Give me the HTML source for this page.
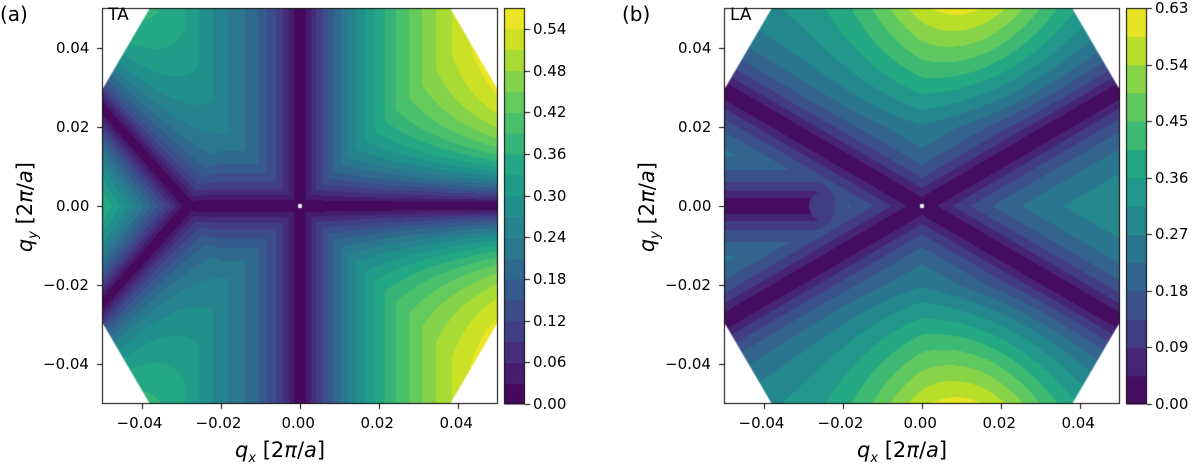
<!DOCTYPE html>
<html><head><meta charset="utf-8"><style>
body{margin:0;background:#fff;width:1200px;height:472px;overflow:hidden;position:relative;font-family:"DejaVu Sans","Liberation Sans",sans-serif;}
canvas{position:absolute;left:0;top:0}
.t{position:absolute;font-size:15px;color:#000;white-space:nowrap}
</style></head><body>
<canvas id="cv" width="1200" height="472"></canvas>
<div id="labels"></div>
<script>
const xTicks=[-0.04,-0.02,0.00,0.02,0.04];
const yTicks=[-0.04,-0.02,0.00,0.02,0.04];
const taCbTicks=[0.00,0.06,0.12,0.18,0.24,0.30,0.36,0.42,0.48,0.54];
const laCbTicks=[0.00,0.09,0.18,0.27,0.36,0.45,0.54,0.63];
const taMax=0.57, taStep=0.03;
const laMax=0.63, laStep=0.045;
const hexX=[-0.0379,0.0379,0.05,0.05,0.0379,-0.0379,-0.05,-0.05];
const hexY=[0.05,0.05,0.0293,-0.0293,-0.05,-0.05,-0.0293,0.0293];

const VIR=[[68,1,84],[72,35,116],[64,67,135],[52,94,141],[41,120,142],[32,144,140],[34,167,132],[68,190,112],[121,209,81],[189,223,38],[253,231,37]];
function vir(t){t=Math.max(0,Math.min(1,t));const f=t*10,i=Math.min(9,Math.floor(f)),u=f-i;return VIR[i].map((c,k)=>Math.round(c+(VIR[i+1][k]-c)*u));}
function segDist(px,py,ax,ay,bx,by){const dx=bx-ax,dy=by-ay;let t=((px-ax)*dx+(py-ay)*dy)/(dx*dx+dy*dy);t=Math.max(0,Math.min(1,t));return Math.hypot(px-ax-t*dx,py-ay-t*dy);}
function g(d){return 1-Math.exp(-Math.max(0,d-0.0003)/0.012);}
function ta(x,y){
  let d=Math.min(Math.abs(x),segDist(x,y,-0.028,0,0.06,0),segDist(x,y,-0.028,0,-0.06,0.036),segDist(x,y,-0.028,0,-0.06,-0.036));
  let A=x>0?0.31+5.8*x:0.31+Math.max(0,(-x-0.02))*6;
  return A*g(d);
}
function la(x,y){
  let d=Math.min(segDist(x,y,0,0,0.06,0.035),segDist(x,y,0,0,0.06,-0.035),segDist(x,y,0,0,-0.06,0.035),segDist(x,y,0,0,-0.06,-0.035),segDist(x,y,-0.028,0,-0.06,0));
  let A=0.35+0.28*Math.max(0,(Math.abs(y)-0.02)/0.03)*Math.exp(-(((x-0.01)/0.025)**2));
  let v=A*g(d);
  const b=Math.hypot(x+0.025,y);if(b<0.0035)v=Math.max(v,0.12);
  return v;
}
const cv=document.getElementById('cv'),ctx=cv.getContext('2d');
const L=document.getElementById('labels');
function label(txt,x,y,name,extra){const d=document.createElement('div');d.className='t';d.innerHTML=txt;d.style.left=x+'px';d.style.top=y+'px';if(extra)d.style.cssText+=extra;


L.appendChild(d);return d;}
function panel(ox,fn,vmax,step,cbTicks,letter,title){
  const x0=ox+102,x1=ox+498,y0=8,y1=404;
  const sx=v=>x0+(v+0.05)/0.1*(x1-x0), sy=v=>y1-(v+0.05)/0.1*(y1-y0);
  const img=ctx.createImageData(x1-x0,y1-y0);
  const nb=Math.round(vmax/step);
  for(let j=0;j<y1-y0;j++)for(let i=0;i<x1-x0;i++){
    const x=-0.05+(i+0.5)/(x1-x0)*0.1,y=0.05-(j+0.5)/(y1-y0)*0.1;
    let b=Math.min(nb-1,Math.floor(fn(x,y)/step));
    const c=vir((b+0.5)/nb);const k=(j*(x1-x0)+i)*4;img.data[k]=c[0];img.data[k+1]=c[1];img.data[k+2]=c[2];img.data[k+3]=255;}
  const off=document.createElement('canvas');off.width=x1-x0;off.height=y1-y0;off.getContext('2d').putImageData(img,0,0);
  ctx.save();ctx.beginPath();hexX.forEach((v,i)=>{i?ctx.lineTo(sx(v),sy(hexY[i])):ctx.moveTo(sx(v),sy(hexY[i]))});ctx.closePath();ctx.clip();
  ctx.drawImage(off,x0,y0);ctx.restore();
  ctx.fillStyle='#fff';ctx.beginPath();ctx.arc(sx(0),sy(0),2.2,0,7);ctx.fill();
  ctx.strokeStyle='#000';ctx.lineWidth=1;ctx.strokeRect(x0+0.5,y0+0.5,x1-x0-1,y1-y0-1);
  xTicks.forEach(v=>{const p=Math.round(sx(v))+0.5;ctx.beginPath();ctx.moveTo(p,y1);ctx.lineTo(p,y1+5);ctx.stroke();
    label(v.toFixed(2).replace('-','−'),p-(v<0?26:19),y1+10,'x-tick-label');});
  yTicks.forEach(v=>{const p=Math.round(sy(v))+0.5;ctx.beginPath();ctx.moveTo(x0,p);ctx.lineTo(x0-5,p);ctx.stroke();
    label(v.toFixed(2).replace('-','−'),x0-(v<0?59:46),p-10,'y-tick-label');});
  const cx0=ox+504,cx1=ox+525,cb0=y1,scale=(y1-y0)/vmax;
  for(let b=0;b<nb;b++){const c=vir((b+0.5)/nb);ctx.fillStyle=`rgb(${c})`;const ya=cb0-(b+1)*step*scale,yb=cb0-b*step*scale;ctx.fillRect(cx0,ya,cx1-cx0,yb-ya+0.5);}
  ctx.strokeRect(cx0+0.5,y0+0.5,cx1-cx0-1,y1-y0-1);
  cbTicks.forEach(v=>{const p=Math.round(cb0-v*scale)+0.5;ctx.beginPath();ctx.moveTo(cx1,p);ctx.lineTo(cx1+5,p);ctx.stroke();
    label(v.toFixed(2),cx1+8,p-10,'colorbar-tick-label');});
  label(letter,ox+0,2,'panel-letter','font-size:20px');
  label(title,ox+108,5,'panel-title','font-size:17px');
  label('<i>q</i><sub style="font-size:13px"><i>x</i></sub> [2<i>π</i>/<i>a</i>]',ox+235,438,'x-axis-title','font-size:21px');
  label('<i>q</i><sub style="font-size:13px"><i>y</i></sub> [2<i>π</i>/<i>a</i>]',ox-18,193,'y-axis-title','font-size:21px;transform:rotate(-90deg);transform-origin:center;');
}
panel(0,ta,taMax,taStep,taCbTicks,'(a)','TA');
panel(622,la,laMax,laStep,laCbTicks,'(b)','LA');
</script>
</body></html>
